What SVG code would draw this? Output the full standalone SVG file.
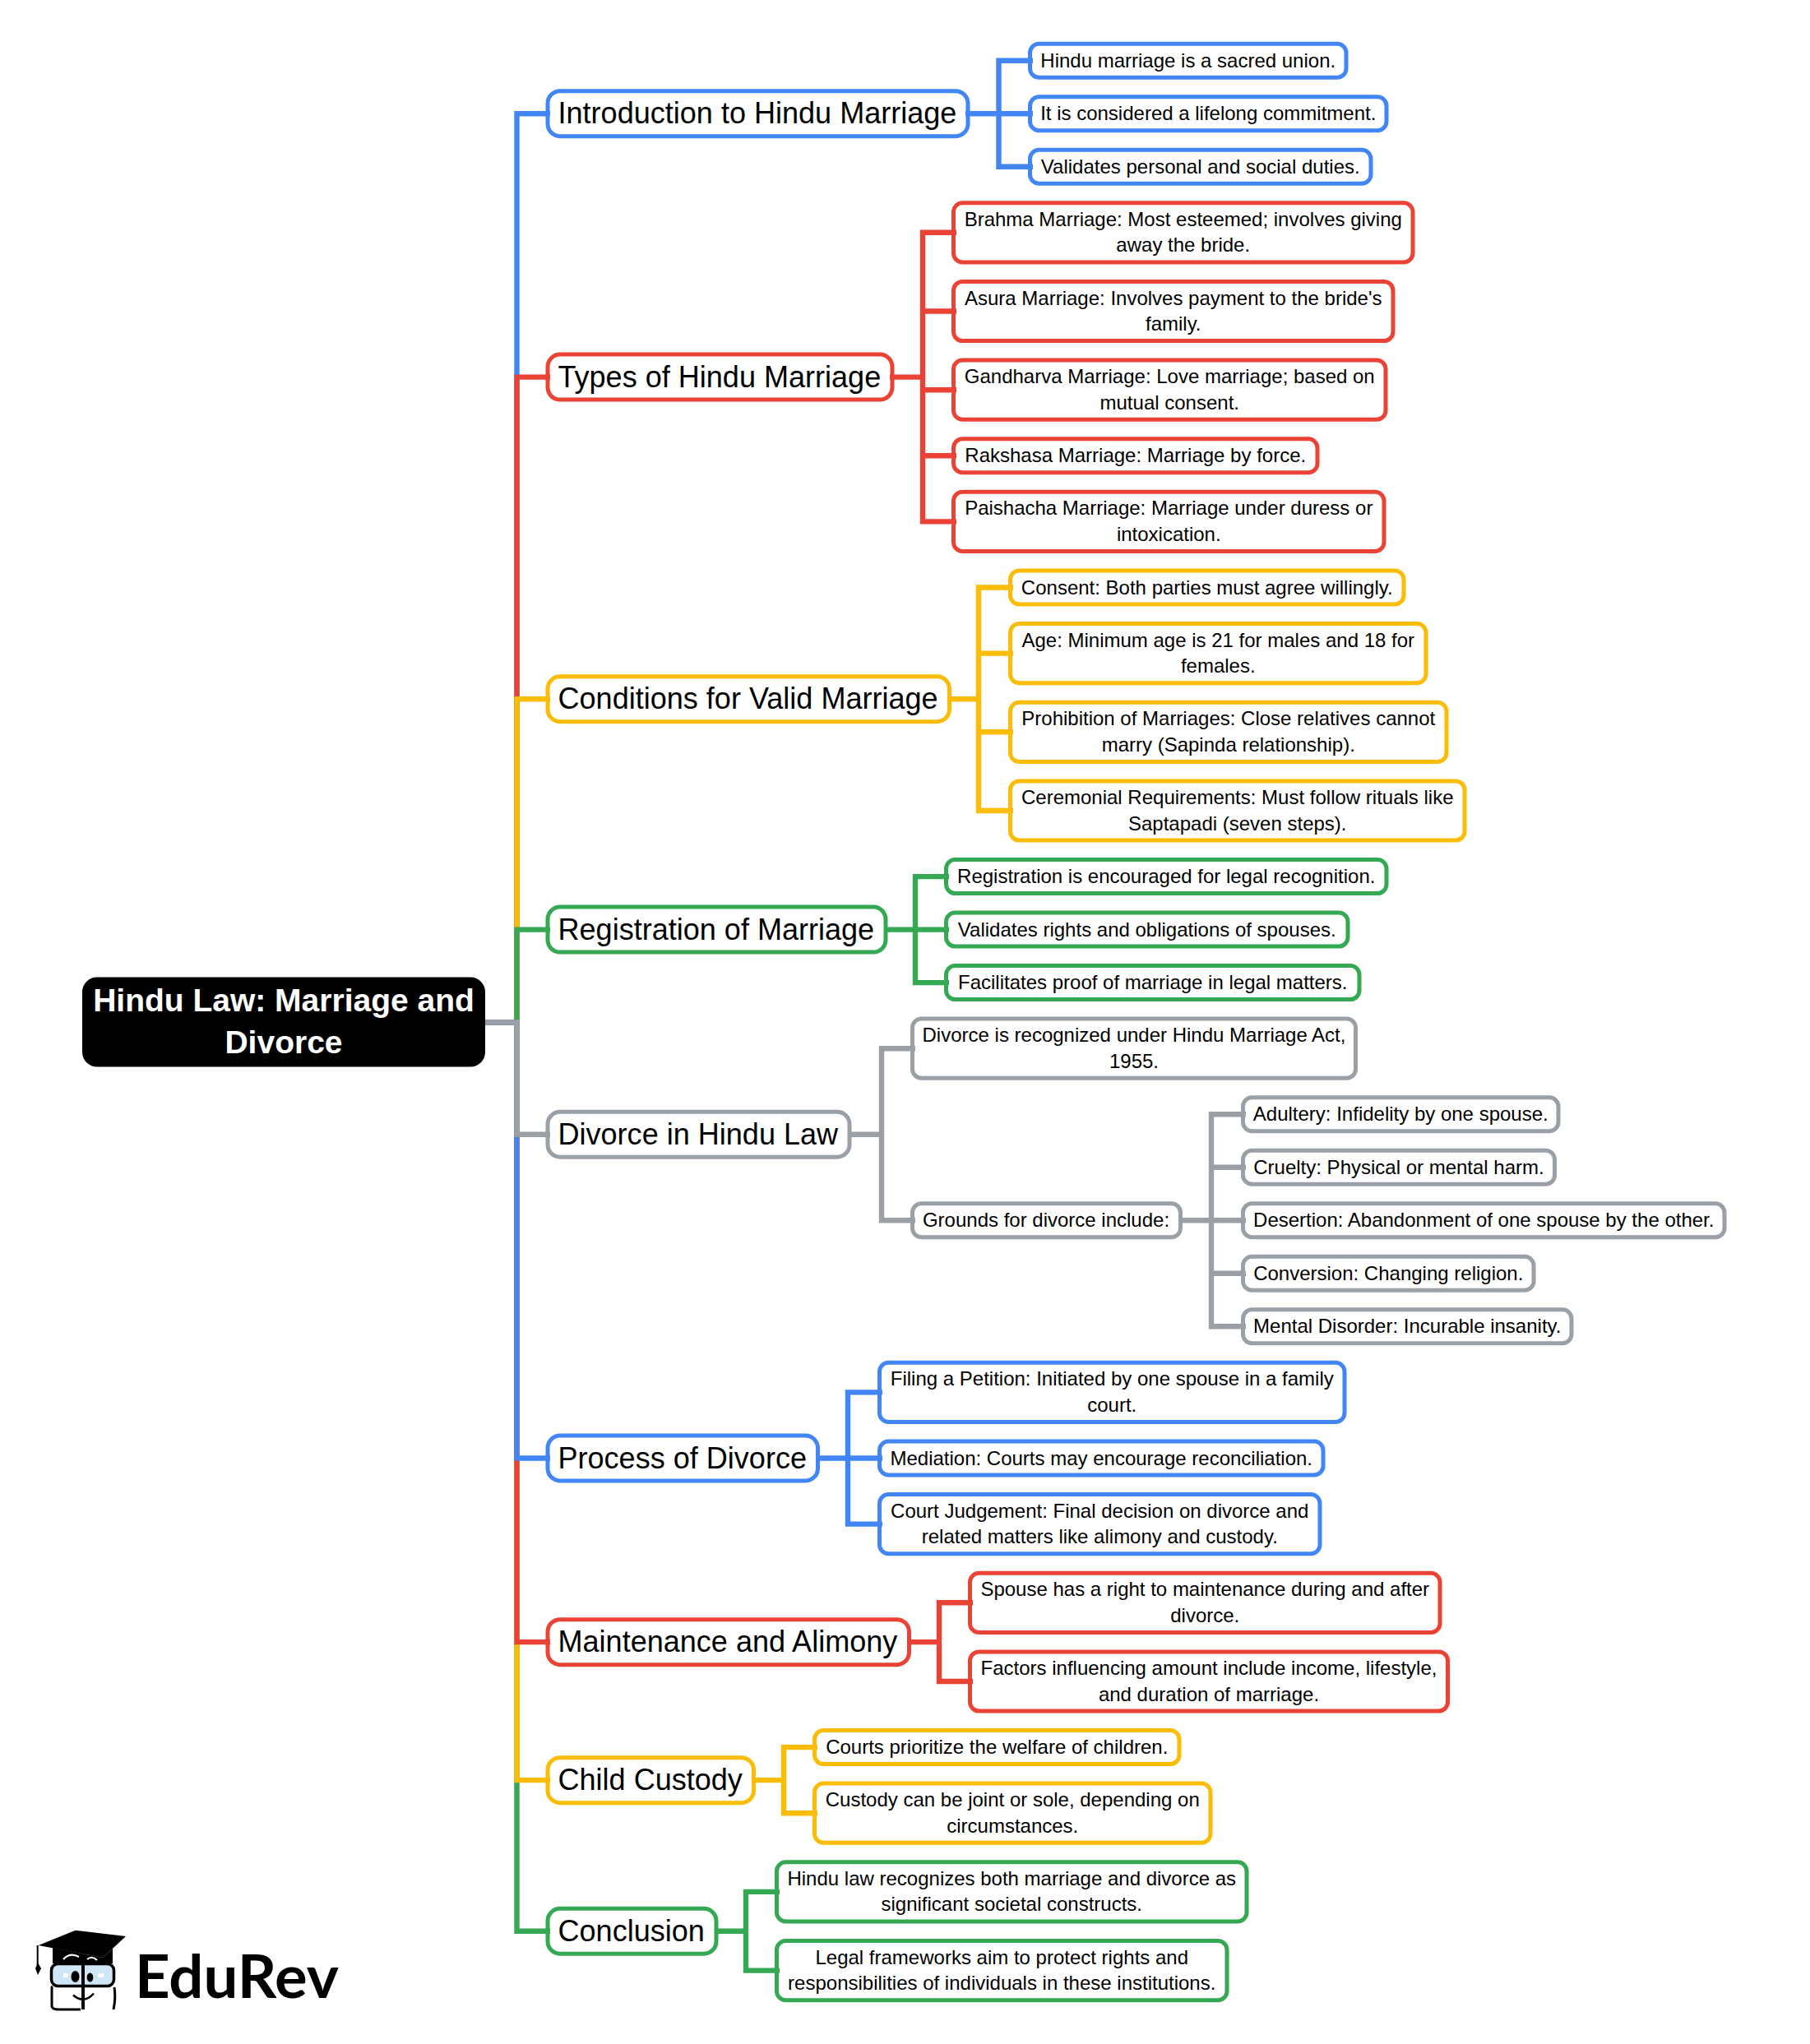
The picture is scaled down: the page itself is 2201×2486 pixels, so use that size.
<svg xmlns="http://www.w3.org/2000/svg" width="2201" height="2486" viewBox="0 0 2201 2486">
<style>
text{font-family:"Liberation Sans",Arial,sans-serif;fill:#000;text-anchor:middle}
text.m{font-size:36.05px;text-anchor:start}.s{font-size:24px}
.root text{font-size:39px;font-weight:700;fill:#fff}
rect{fill:#fff;stroke-width:5}
.m-box{rx:15px;ry:15px}
.s-box{rx:11px;ry:11px}
.blue rect{stroke:#4285F4}.red rect{stroke:#EA4335}.yellow rect{stroke:#FBBC05}.green rect{stroke:#34A853}.gray rect{stroke:#9AA0A6}
#connectors path{fill:none;stroke-width:6.4;stroke-linejoin:miter}
#connectors .blue{stroke:#4285F4}#connectors .red{stroke:#EA4335}#connectors .yellow{stroke:#FBBC05}#connectors .green{stroke:#34A853}#connectors .gray{stroke:#9AA0A6}
</style>
<rect width="2201" height="2486" style="fill:#fff;stroke:none"/>
<g id="root" class="root"><rect x="100" y="1188.5" width="490" height="109" rx="18" ry="18" style="fill:#000;stroke:none"/><text x="345" y="1230">Hindu Law: Marriage and</text><text x="345" y="1281">Divorce</text></g>

<g id="n-intro" class="blue"><rect class="m-box" x="666" y="110.7" width="511" height="55"/><text class="m" x="678.5" y="150.2">Introduction to Hindu Marriage</text></g>
<g id="n-types" class="red"><rect class="m-box" x="666" y="431.1" width="419" height="55"/><text class="m" x="678.5" y="470.6">Types of Hindu Marriage</text></g>
<g id="n-cond" class="yellow"><rect class="m-box" x="666" y="822.75" width="488.5" height="55"/><text class="m" x="678.5" y="862.25">Conditions for Valid Marriage</text></g>
<g id="n-reg" class="green"><rect class="m-box" x="666" y="1103.1" width="411" height="55"/><text class="m" x="678.5" y="1142.6">Registration of Marriage</text></g>
<g id="n-div" class="gray"><rect class="m-box" x="666" y="1352.25" width="367" height="55"/><text class="m" x="678.5" y="1391.75">Divorce in Hindu Law</text></g>
<g id="n-proc" class="blue"><rect class="m-box" x="666" y="1746" width="328.5" height="55"/><text class="m" x="678.5" y="1785.5">Process of Divorce</text></g>
<g id="n-main" class="red"><rect class="m-box" x="666" y="1969.65" width="439.5" height="55"/><text class="m" x="678.5" y="2009.15">Maintenance and Alimony</text></g>
<g id="n-child" class="yellow"><rect class="m-box" x="666" y="2137.65" width="250.5" height="55"/><text class="m" x="678.5" y="2177.15">Child Custody</text></g>
<g id="n-concl" class="green"><rect class="m-box" x="666" y="2321.25" width="205" height="55"/><text class="m" x="678.5" y="2360.75">Conclusion</text></g>

<g id="a1" class="blue"><rect class="s-box" x="1252.5" y="53.2" width="384.5" height="41"/><text class="s" x="1444.75" y="81.7">Hindu marriage is a sacred union.</text></g>
<g id="a2" class="blue"><rect class="s-box" x="1252.5" y="117.7" width="433.5" height="41"/><text class="s" x="1469.25" y="146.2">It is considered a lifelong commitment.</text></g>
<g id="a3" class="blue"><rect class="s-box" x="1252.5" y="182.2" width="414.5" height="41"/><text class="s" x="1459.75" y="210.7">Validates personal and social duties.</text></g>

<g id="t1" class="red"><rect class="s-box" x="1159.5" y="246.7" width="558.5" height="72.2"/><text class="s" x="1438.75" y="274.8">Brahma Marriage: Most esteemed; involves giving</text><text class="s" x="1438.75" y="306.3">away the bride.</text></g>
<g id="t2" class="red"><rect class="s-box" x="1159.5" y="342.4" width="534.5" height="72.2"/><text class="s" x="1426.75" y="370.5">Asura Marriage: Involves payment to the bride's</text><text class="s" x="1426.75" y="402">family.</text></g>
<g id="t3" class="red"><rect class="s-box" x="1159.5" y="438.1" width="525.5" height="72.2"/><text class="s" x="1422.25" y="466.2">Gandharva Marriage: Love marriage; based on</text><text class="s" x="1422.25" y="497.7">mutual consent.</text></g>
<g id="t4" class="red"><rect class="s-box" x="1159.5" y="533.8" width="442.5" height="41"/><text class="s" x="1380.75" y="562.3">Rakshasa Marriage: Marriage by force.</text></g>
<g id="t5" class="red"><rect class="s-box" x="1159.5" y="598.3" width="523.5" height="72.2"/><text class="s" x="1421.25" y="626.4">Paishacha Marriage: Marriage under duress or</text><text class="s" x="1421.25" y="657.9">intoxication.</text></g>

<g id="c1" class="yellow"><rect class="s-box" x="1228.5" y="694" width="478.5" height="41"/><text class="s" x="1467.75" y="722.5">Consent: Both parties must agree willingly.</text></g>
<g id="c2" class="yellow"><rect class="s-box" x="1228.5" y="758.5" width="505.5" height="72.2"/><text class="s" x="1481.25" y="786.6">Age: Minimum age is 21 for males and 18 for</text><text class="s" x="1481.25" y="818.1">females.</text></g>
<g id="c3" class="yellow"><rect class="s-box" x="1228.5" y="854.2" width="530.5" height="72.2"/><text class="s" x="1493.75" y="882.3">Prohibition of Marriages: Close relatives cannot</text><text class="s" x="1493.75" y="913.8">marry (Sapinda relationship).</text></g>
<g id="c4" class="yellow"><rect class="s-box" x="1228.5" y="949.9" width="552.5" height="72.2"/><text class="s" x="1504.75" y="978">Ceremonial Requirements: Must follow rituals like</text><text class="s" x="1504.75" y="1009.5">Saptapadi (seven steps).</text></g>

<g id="r1" class="green"><rect class="s-box" x="1150.5" y="1045.6" width="535.5" height="41"/><text class="s" x="1418.25" y="1074.1">Registration is encouraged for legal recognition.</text></g>
<g id="r2" class="green"><rect class="s-box" x="1150.5" y="1110.1" width="488.5" height="41"/><text class="s" x="1394.75" y="1138.6">Validates rights and obligations of spouses.</text></g>
<g id="r3" class="green"><rect class="s-box" x="1150.5" y="1174.6" width="502.5" height="41"/><text class="s" x="1401.75" y="1203.1">Facilitates proof of marriage in legal matters.</text></g>

<g id="d1" class="gray"><rect class="s-box" x="1109.5" y="1239.1" width="539" height="72.2"/><text class="s" x="1379" y="1267.2">Divorce is recognized under Hindu Marriage Act,</text><text class="s" x="1379" y="1298.7">1955.</text></g>
<g id="d2" class="gray"><rect class="s-box" x="1109.5" y="1463.8" width="326" height="41"/><text class="s" x="1272" y="1492.3">Grounds for divorce include:</text></g>
<g id="g1" class="gray"><rect class="s-box" x="1511.5" y="1334.8" width="383.5" height="41"/><text class="s" x="1703.25" y="1363.3">Adultery: Infidelity by one spouse.</text></g>
<g id="g2" class="gray"><rect class="s-box" x="1511.5" y="1399.3" width="379" height="41"/><text class="s" x="1701" y="1427.8">Cruelty: Physical or mental harm.</text></g>
<g id="g3" class="gray"><rect class="s-box" x="1511.5" y="1463.8" width="585.5" height="41"/><text class="s" x="1804.25" y="1492.3">Desertion: Abandonment of one spouse by the other.</text></g>
<g id="g4" class="gray"><rect class="s-box" x="1511.5" y="1528.3" width="353.5" height="41"/><text class="s" x="1688.25" y="1556.8">Conversion: Changing religion.</text></g>
<g id="g5" class="gray"><rect class="s-box" x="1511.5" y="1592.8" width="399.5" height="41"/><text class="s" x="1711.25" y="1621.3">Mental Disorder: Incurable insanity.</text></g>

<g id="p1" class="blue"><rect class="s-box" x="1069.5" y="1657.3" width="565.5" height="72.2"/><text class="s" x="1352.25" y="1685.4">Filing a Petition: Initiated by one spouse in a family</text><text class="s" x="1352.25" y="1716.9">court.</text></g>
<g id="p2" class="blue"><rect class="s-box" x="1069.5" y="1753" width="539.5" height="41"/><text class="s" x="1339.25" y="1781.5">Mediation: Courts may encourage reconciliation.</text></g>
<g id="p3" class="blue"><rect class="s-box" x="1069.5" y="1817.5" width="535.5" height="72.2"/><text class="s" x="1337.25" y="1845.6">Court Judgement: Final decision on divorce and</text><text class="s" x="1337.25" y="1877.1">related matters like alimony and custody.</text></g>

<g id="m1" class="red"><rect class="s-box" x="1179.5" y="1913.2" width="571.5" height="72.2"/><text class="s" x="1465.25" y="1941.3">Spouse has a right to maintenance during and after</text><text class="s" x="1465.25" y="1972.8">divorce.</text></g>
<g id="m2" class="red"><rect class="s-box" x="1179.5" y="2008.9" width="581" height="72.2"/><text class="s" x="1470" y="2037">Factors influencing amount include income, lifestyle,</text><text class="s" x="1470" y="2068.5">and duration of marriage.</text></g>

<g id="h1" class="yellow"><rect class="s-box" x="990.5" y="2104.6" width="443.5" height="41"/><text class="s" x="1212.25" y="2133.1">Courts prioritize the welfare of children.</text></g>
<g id="h2" class="yellow"><rect class="s-box" x="990.5" y="2169.1" width="481.5" height="72.2"/><text class="s" x="1231.25" y="2197.2">Custody can be joint or sole, depending on</text><text class="s" x="1231.25" y="2228.7">circumstances.</text></g>

<g id="k1" class="green"><rect class="s-box" x="944.5" y="2264.8" width="571.5" height="72.2"/><text class="s" x="1230.25" y="2292.9">Hindu law recognizes both marriage and divorce as</text><text class="s" x="1230.25" y="2324.4">significant societal constructs.</text></g>
<g id="k2" class="green"><rect class="s-box" x="944.5" y="2360.5" width="547.5" height="72.2"/><text class="s" x="1218.25" y="2388.6">Legal frameworks aim to protect rights and</text><text class="s" x="1218.25" y="2420.1">responsibilities of individuals in these institutions.</text></g>

<g id="connectors">
<path class="blue" d="M590 1243.5H628.5V138.2H669"/>
<path class="red" d="M590 1243.5H628.5V458.6H669"/>
<path class="yellow" d="M590 1243.5H628.5V850.25H669"/>
<path class="green" d="M590 1243.5H628.5V1130.6H669"/>
<path class="green" d="M590 1243.5H628.5V2348.75H669"/>
<path class="yellow" d="M590 1243.5H628.5V2165.15H669"/>
<path class="red" d="M590 1243.5H628.5V1997.15H669"/>
<path class="blue" d="M590 1243.5H628.5V1773.5H669"/>
<path class="gray" d="M590 1243.5H628.5V1379.75H669"/>

<path class="blue" d="M1174 138.2H1214.5V73.7H1256M1214.5 138.2V202.7H1256M1174 138.2H1256"/>
<path class="red" d="M1082 458.6H1122V282.8H1163M1122 378.5H1163M1122 458.6V474.2H1163M1122 554.3H1163M1122 458.6V634.4H1163"/>
<path class="yellow" d="M1152 850.25H1190V714.5H1232M1190 794.6H1232M1190 850.25V890.3H1232M1190 850.25V986H1232"/>
<path class="green" d="M1075 1130.6H1113V1066.1H1154M1113 1130.6H1154M1113 1130.6V1195.1H1154"/>
<path class="gray" d="M1031 1379.75H1072V1275.2H1113M1072 1379.75V1484.3H1113"/>
<path class="gray" d="M1433 1484.3H1473V1355.3H1515M1473 1419.8H1515M1473 1484.3H1515M1473 1484.3V1613.3H1515M1473 1548.8H1515"/>
<path class="blue" d="M992 1773.5H1031V1693.4H1073M1031 1773.5H1073M1031 1773.5V1853.6H1073"/>
<path class="red" d="M1103 1997.15H1142V1949.3H1183M1142 1997.15V2045H1183"/>
<path class="yellow" d="M914 2165.15H953V2125.1H994M953 2165.15V2205.2H994"/>
<path class="green" d="M869 2348.75H907V2300.9H948M907 2348.75V2396.6H948"/>
</g>

<g id="logo">
<path d="M91.7 2347.7L153 2355L125 2381L46.7 2366Z" style="fill:#000"/>
<path d="M64 2369L125 2381L137 2370V2388H64Z" style="fill:#000"/>
<path d="M45.7 2366V2390" style="fill:none;stroke:#000;stroke-width:2"/>
<path d="M46 2387L50 2394L46 2402L43 2394Z" style="fill:#000"/>
<path d="M77 2383Q85 2374 96 2380M106 2383Q112 2378 118 2384" style="fill:none;stroke:#fff;stroke-width:2"/>
<rect x="62.5" y="2388.5" width="76" height="27" rx="8" ry="8" style="fill:#cfe6f7;stroke:#000;stroke-width:3.5"/>
<path d="M63 2417Q63 2414 63 2440Q63 2444 72 2444H98M139 2417Q141 2430 138 2444" style="fill:none;stroke:#000;stroke-width:3"/>
<path d="M101 2388V2444" style="fill:none;stroke:#000;stroke-width:4"/>
<ellipse cx="91.5" cy="2404" rx="5" ry="7" style="fill:#000"/>
<ellipse cx="109.5" cy="2405" rx="3.8" ry="5.5" style="fill:#000"/>
<path d="M77 2400h6v5h-6zM119 2400h7v5h-7z" style="fill:#fff"/>
<path d="M89 2426.5Q102 2438 114 2424.5" style="fill:none;stroke:#000;stroke-width:2.5"/>
<text x="164" y="2430" textLength="248" lengthAdjust="spacingAndGlyphs" style="font-family:'Lato','Open Sans',sans-serif;font-size:73px;font-weight:700;text-anchor:start">EduRev</text>
</g>
</svg>
